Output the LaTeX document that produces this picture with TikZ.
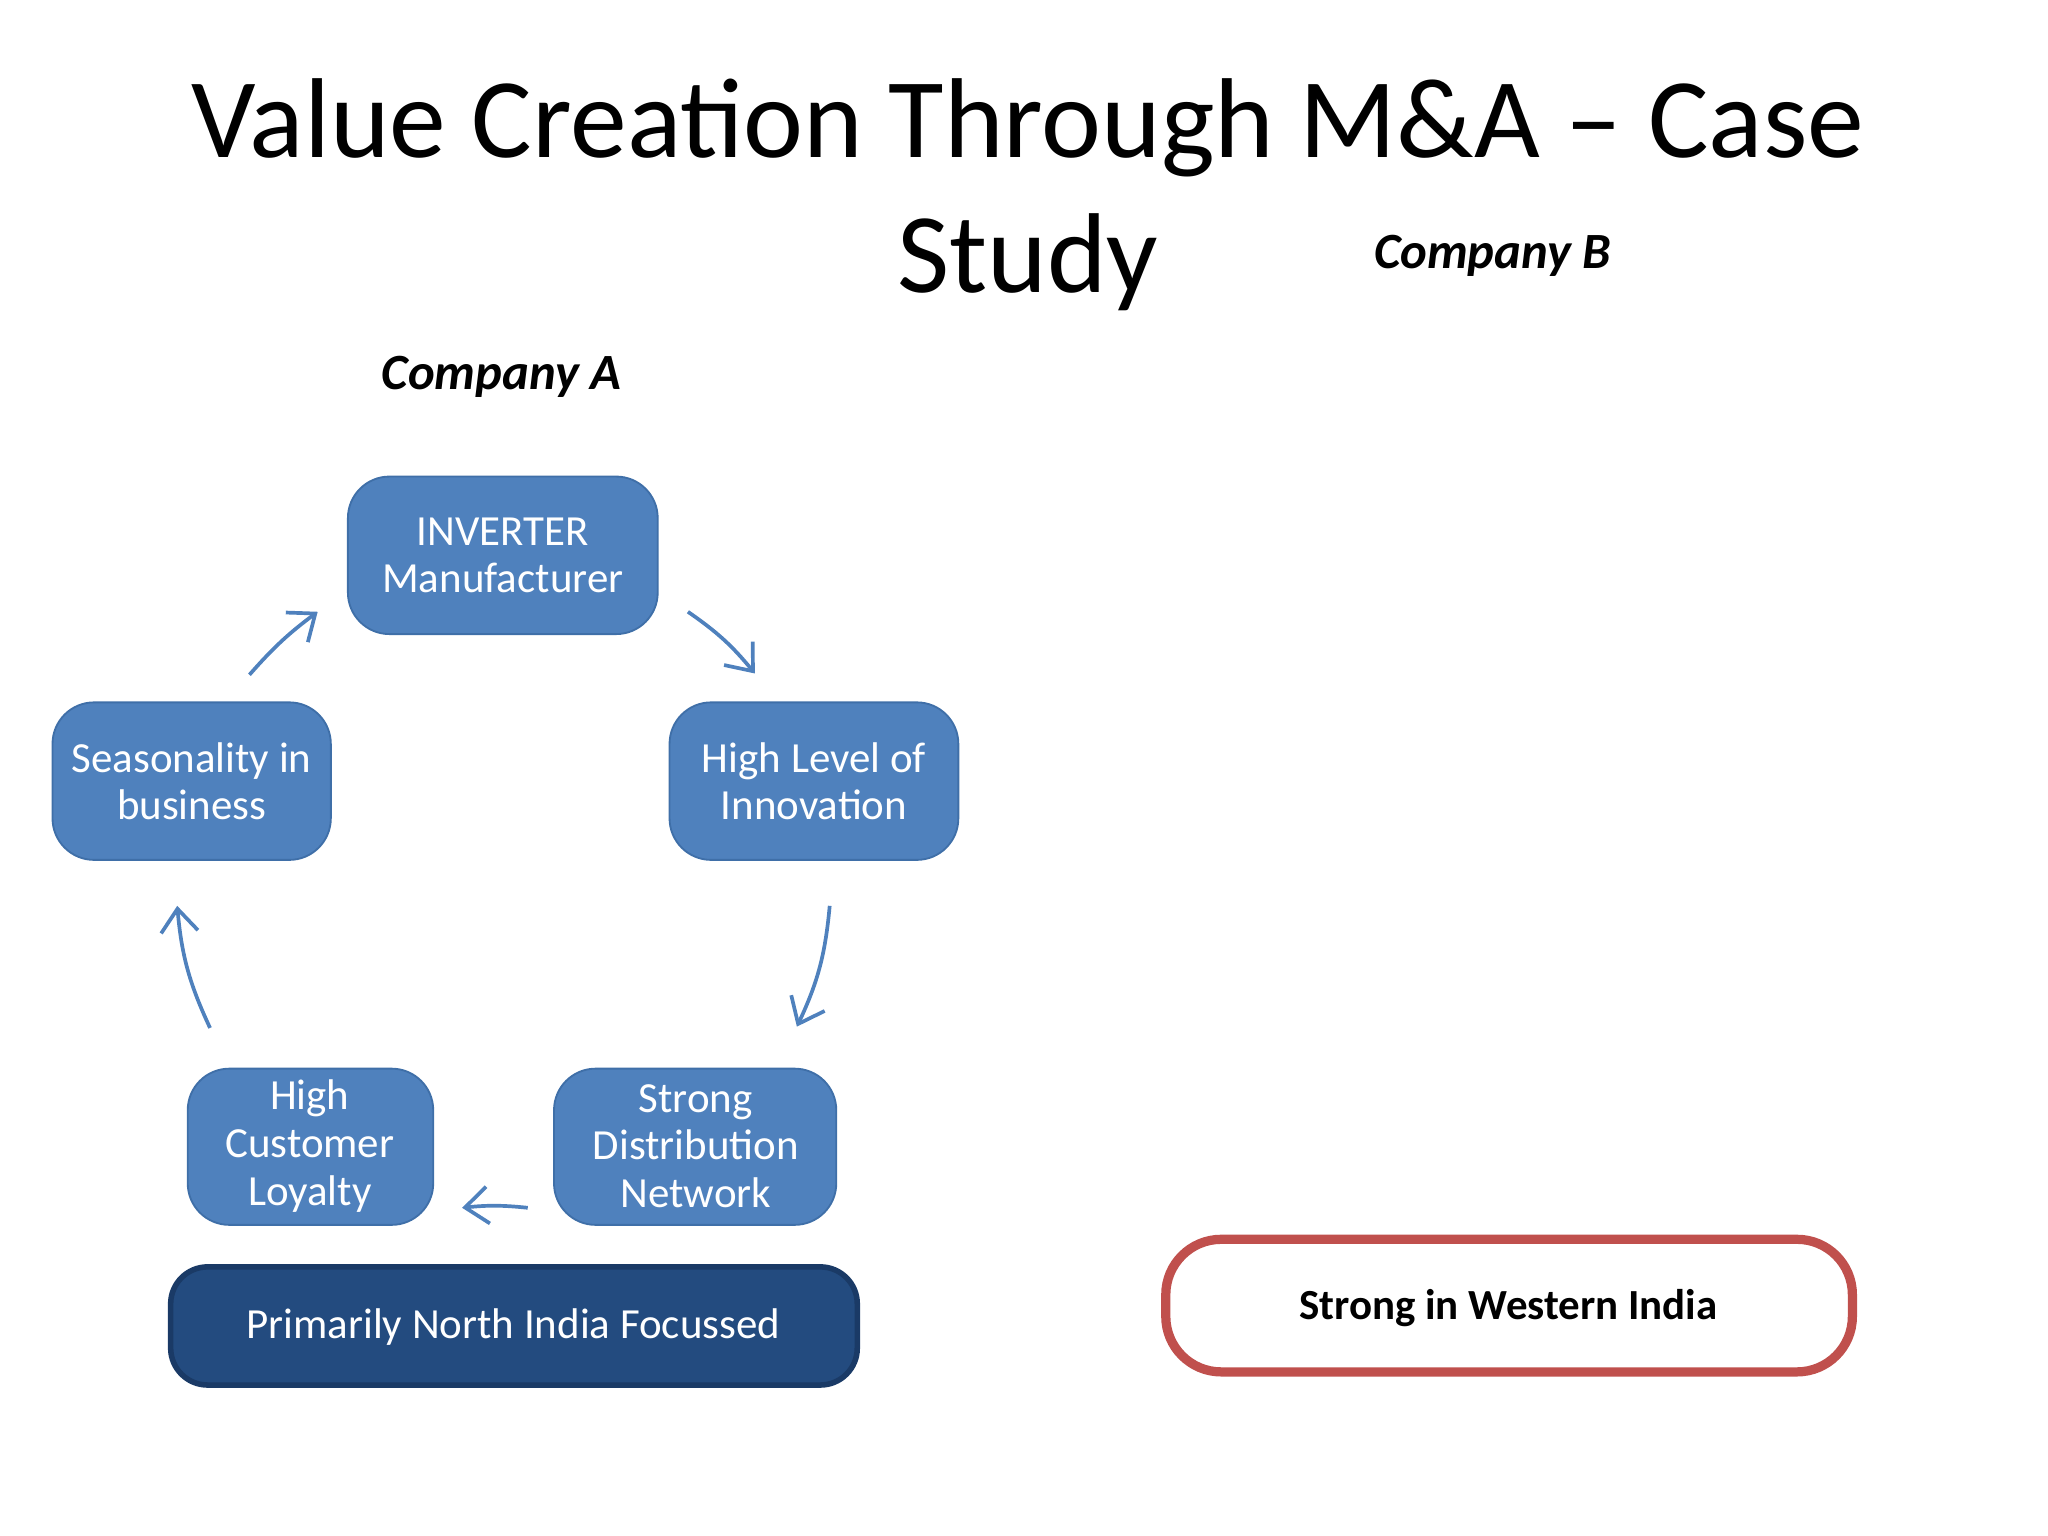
\documentclass[tikz,border=0pt]{standalone}
\usepackage{fontspec}
\setmainfont{Carlito}
\usetikzlibrary{arrows.meta}
\definecolor{bx}{HTML}{4F81BD}
\definecolor{bxd}{HTML}{3F6FA8}
\definecolor{dk}{HTML}{234B7F}
\definecolor{dkb}{HTML}{1A3A66}
\definecolor{rd}{HTML}{C0504D}
\tikzset{
  cyc/.style={draw=bxd,fill=bx,rounded corners=9pt},
  lbl/.style={text=white,align=center,font=\fontsize{9.3}{10.3}\selectfont},
  arr/.style={draw=bx,line width=0.8pt,-{Straight Barb[length=5pt,width=8pt]}},
  co/.style={font=\fontsize{11}{13}\selectfont\bfseries\itshape}
}
\begin{document}
\begin{tikzpicture}[x=0.01cm,y=-0.01cm]
\useasboundingbox (0,0) rectangle (1560,1170);
\node (t1) at (783,97) {\fontsize{24.6}{30}\selectfont Value Creation Through M\&A – Case};
\node (t2) at (783,200) {\fontsize{24.6}{30}\selectfont Study};
\node[co] (cb) at (1137,195) {Company B};
\node[co] (ca) at (382,287) {Company A};
\path[cyc] (265,363) rectangle (501,483);
\node[lbl] (inv) at (383,423) {INVERTER\\Manufacturer};
\path[cyc] (40,535) rectangle (252,655);
\node[lbl] (sea) at (146,595) {Seasonality in\\business};
\path[cyc] (510,535) rectangle (730,655);
\node[lbl] (hl) at (620,595) {High Level of\\Innovation};
\path[cyc] (422,814) rectangle (637,933);
\node[lbl] (sd) at (530,873) {Strong\\Distribution\\Network};
\path[cyc] (143,814) rectangle (330,933);
\node[lbl] (hc) at (236,873) {High\\Customer\\Loyalty};
\path[draw=dkb,line width=1.2pt,fill=dk,rounded corners=8pt] (130,965) rectangle (653,1055);
\node[lbl] (pn) at (391,1011) {Primarily North India Focussed};
\path[draw=rd,line width=2pt,fill=white,rounded corners=12pt] (888,944) rectangle (1411,1045);
\node[font=\fontsize{9.3}{11}\selectfont\bfseries] (sw) at (1149,996) {Strong in Western India};
\coordinate (a1) at (524,466); \coordinate (a2) at (575,513);
\coordinate (b1) at (632,690); \coordinate (b2) at (607,782);
\coordinate (c1) at (402,920); \coordinate (c2) at (352,920);
\coordinate (d1) at (160,783); \coordinate (d2) at (135,690);
\coordinate (e1) at (190,514); \coordinate (e2) at (242,466);
\draw[arr] (a1) to[bend left=8] (a2);
\draw[arr] (b1) to[bend left=10] (b2);
\draw[arr] (c1) to[bend right=6] (c2);
\draw[arr] (d1) to[bend left=10] (d2);
\draw[arr] (e1) to[bend left=6] (e2);
\end{tikzpicture}
\end{document}
